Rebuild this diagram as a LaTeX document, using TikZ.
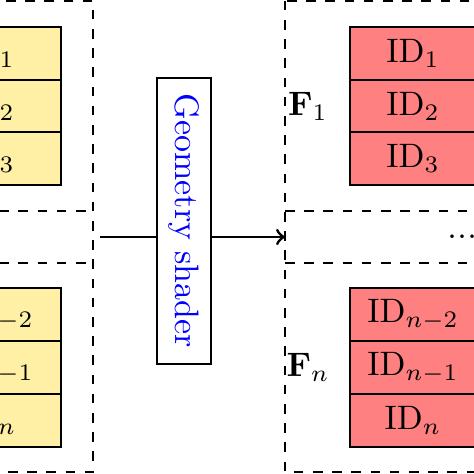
\RequirePackage{fix-cm}
\documentclass[tikz,border=0pt]{standalone}
\usepackage{amsmath}
\definecolor{cellyellow}{RGB}{255,240,165}
\definecolor{cellred}{RGB}{255,128,128}
\begin{document}
\begin{tikzpicture}[x=0.3125pt,y=-0.3125pt,
  every node/.append style={font=\fontsize{10.6}{12.7}\selectfont},
  grpline/.style={draw,dashed,line width=0.6pt},
  ycell/.style={draw,line width=0.6pt,fill=cellyellow,minimum width=45.6pt,minimum height=16.45pt,inner sep=0pt,outer sep=0pt},
  rcell/.style={draw,line width=0.6pt,fill=cellred,minimum width=39.4pt,minimum height=16.45pt,inner sep=0pt,outer sep=0pt},
  shaderbox/.style={draw,line width=0.6pt,fill=white,text=blue,rotate=-90,minimum width=89.4pt,minimum height=16.9pt,inner sep=0pt},
  flabel/.style={inner sep=0pt},
  flow/.style={->,line width=0.9pt}]
\useasboundingbox (0,0) rectangle (474,474);
\clip (0,0) rectangle (474,474);
% dashed groups, left column
\draw[grpline] (-20,0.8) rectangle (93,472);
\draw[grpline] (-20,211) -- (93,211);
\draw[grpline] (-20,263) -- (93,263);
% dashed groups, right column
\draw[grpline] (285,0.8) rectangle (530,472);
\draw[grpline] (285,211) -- (530,211);
\draw[grpline] (285,263) -- (530,263);
% yellow cells
\node[ycell] (y1) at (-12,53.5) {ID$_1$};
\node[ycell] (y2) at (-12,106) {ID$_2$};
\node[ycell] (y3) at (-12,158.5) {ID$_3$};
\node[ycell] (y4) at (-12,314.5) {ID$_{n-2}$};
\node[ycell] (y5) at (-12,367.5) {ID$_{n-1}$};
\node[ycell] (y6) at (-12,420.5) {ID$_n$};
% red cells
\node[rcell] (r1) at (413,53.5) {ID$_1$};
\node[rcell] (r2) at (413,106) {ID$_2$};
\node[rcell] (r3) at (413,158.5) {ID$_3$};
\node[rcell] (r4) at (413,314.5) {ID$_{n-2}$};
\node[rcell] (r5) at (413,367.5) {ID$_{n-1}$};
\node[rcell] (r6) at (413,420.5) {ID$_n$};
% labels
\node[flabel] (f1) at (308,106) {$\mathbf{F}_1$};
\node[flabel] (fn) at (308,367) {$\mathbf{F}_n$};
\node[inner sep=0pt,anchor=base] (dots) at (462.3,239) {\fontsize{11.5}{12}\selectfont ...};
% arrow
\coordinate (src) at (100,237);
\coordinate (dst) at (285,237);
\draw[flow] (src) -- (dst);
\node[shaderbox] (gs) at (184,221) {Geometry shader};
\end{tikzpicture}
\end{document}
